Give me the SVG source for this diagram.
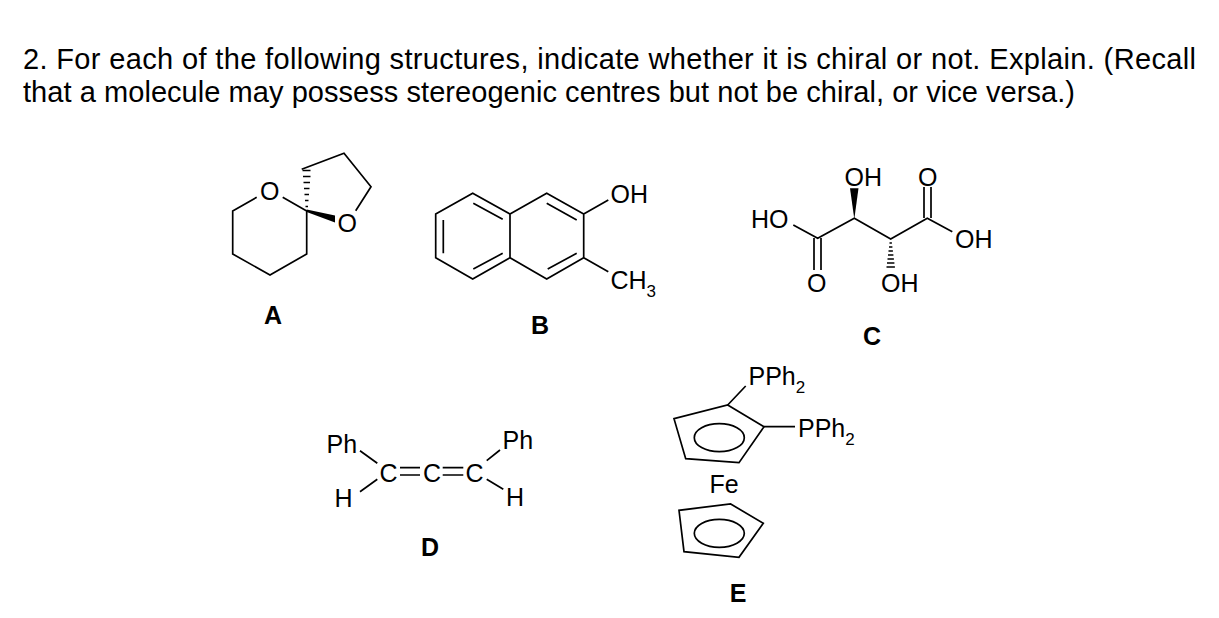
<svg xmlns="http://www.w3.org/2000/svg" width="1219" height="618" viewBox="0 0 1219 618">
<style>
text{font-family:"Liberation Sans",Arial,sans-serif;fill:#000}
.q{font-size:29px}
.a{font-size:25px}
.s{font-size:17px}
.b{font-size:25px;font-weight:bold;text-anchor:middle}
.l{fill:none;stroke:#000;stroke-width:1.7;stroke-linejoin:miter}
.h{fill:none;stroke:#000;stroke-width:1.4}
</style>
<rect width="1219" height="618" fill="#fff"/>
<g id="question">
<text class="q" x="23" y="69" textLength="1173" lengthAdjust="spacing">2. For each of the following structures, indicate whether it is chiral or not. Explain. (Recall</text>
<text class="q" x="23" y="102" textLength="1052" lengthAdjust="spacing">that a molecule may possess stereogenic centres but not be chiral, or vice versa.)</text>
</g>
<g id="connectors">
<path class="l" d="M282.7 197.3L306.7 211V254L270 275L232.7 254V211L256.7 197.300M355.700 210.700L371 186.700L344 153.300L301.700 169.300"/>
<path d="M306.700 209.500L335 215.500V222.500L306.700 212Z"/>
<path class="h" d="M302.500 170.500h8M303 176.500h7.500M303.500 182.500h6.500M304 188.500h5.500M304.500 194.500h4.500M305 200.500h3.500M305.500 206.500h2.500"/>
<path class="l" d="M435.700 214L472.700 193.300L510 214L546.700 193.300L583.700 214V257.700L546.700 279L510 257.700L472.700 279L435.700 257.700ZM510 214V257.700M443.300 220V253.300M473.300 203.300L502.700 219.300M473.300 269L502.700 253.300M546.700 203.300L576.700 220M547.700 269L576.700 253.300M583.700 214L608.300 200M583.700 257.700L608.300 271.700"/>
<path class="l" d="M793.300 225L817.700 238.300L854.300 218.300L890.700 239L927.300 218.300L952.300 231.700M814 238V270M821 238V270M924 187V218M931 187V218"/>
<path d="M854.300 219L850 188.300H858.500Z"/>
<path class="h" d="M889.500 243h2.400M889 247h3.400M888.500 251h4.400M888 255h5.400M887.500 259h6.400M887 263h7.400M886.500 267h8.400"/>
<path class="l" d="M360 450.700L377.300 463.300M360 491.700L377.300 479.300M486.700 460.700L500 450M486.700 479.300L503.300 489.300M400 467.700H420M400 475H420M442.700 467.700H463.300M442.700 475H463.300"/>
<path class="l" d="M727.700 405L745.700 386M764 426.700H795"/>
</g>
<g id="A">
<text class="a" x="260" y="200">O</text>
<text class="a" x="337.500" y="232">O</text>
<text class="b" x="273" y="324">A</text>
</g>
<g id="B">
<text class="a" x="610.500" y="203">OH</text>
<text class="a" x="610.500" y="289">CH<tspan class="s" dy="8">3</tspan></text>
<text class="b" x="540" y="334">B</text>
</g>
<g id="C">
<text class="a" x="751" y="228">HO</text>
<text class="a" x="844.500" y="185.700">OH</text>
<text class="a" x="918" y="185.700">O</text>
<text class="a" x="955" y="248.300">OH</text>
<text class="a" x="807" y="291.700">O</text>
<text class="a" x="881" y="291.700">OH</text>
<text class="b" x="872" y="345">C</text>
</g>
<g id="D">
<text class="a" x="326.500" y="452.700">Ph</text>
<text class="a" x="502.500" y="449.300">Ph</text>
<text class="a" x="334.500" y="507.300">H</text>
<text class="a" x="506" y="506">H</text>
<text class="a" x="379.500" y="481.700">C</text>
<text class="a" x="423" y="481.700">C</text>
<text class="a" x="465.500" y="481.700">C</text>
<text class="b" x="430" y="556">D</text>
</g>
<g id="E">
<path class="l" d="M727.700 405L764 426.700L739 462.700L685.700 458.700L674 418.700Z"/>
<ellipse class="l" cx="719.300" cy="437.700" rx="25" ry="14"/>
<path class="l" d="M730.700 504L763.300 523.300L739 557.300L684 551.700L679 510.300Z"/>
<ellipse class="l" cx="719.300" cy="533.300" rx="25" ry="14"/>
<text class="a" x="748.500" y="385">PPh<tspan class="s" dy="8">2</tspan></text>
<text class="a" x="798" y="436.700">PPh<tspan class="s" dy="8">2</tspan></text>
<text class="a" x="709.500" y="493.300">Fe</text>
<text class="b" x="738" y="601.700">E</text>
</g>
</svg>
